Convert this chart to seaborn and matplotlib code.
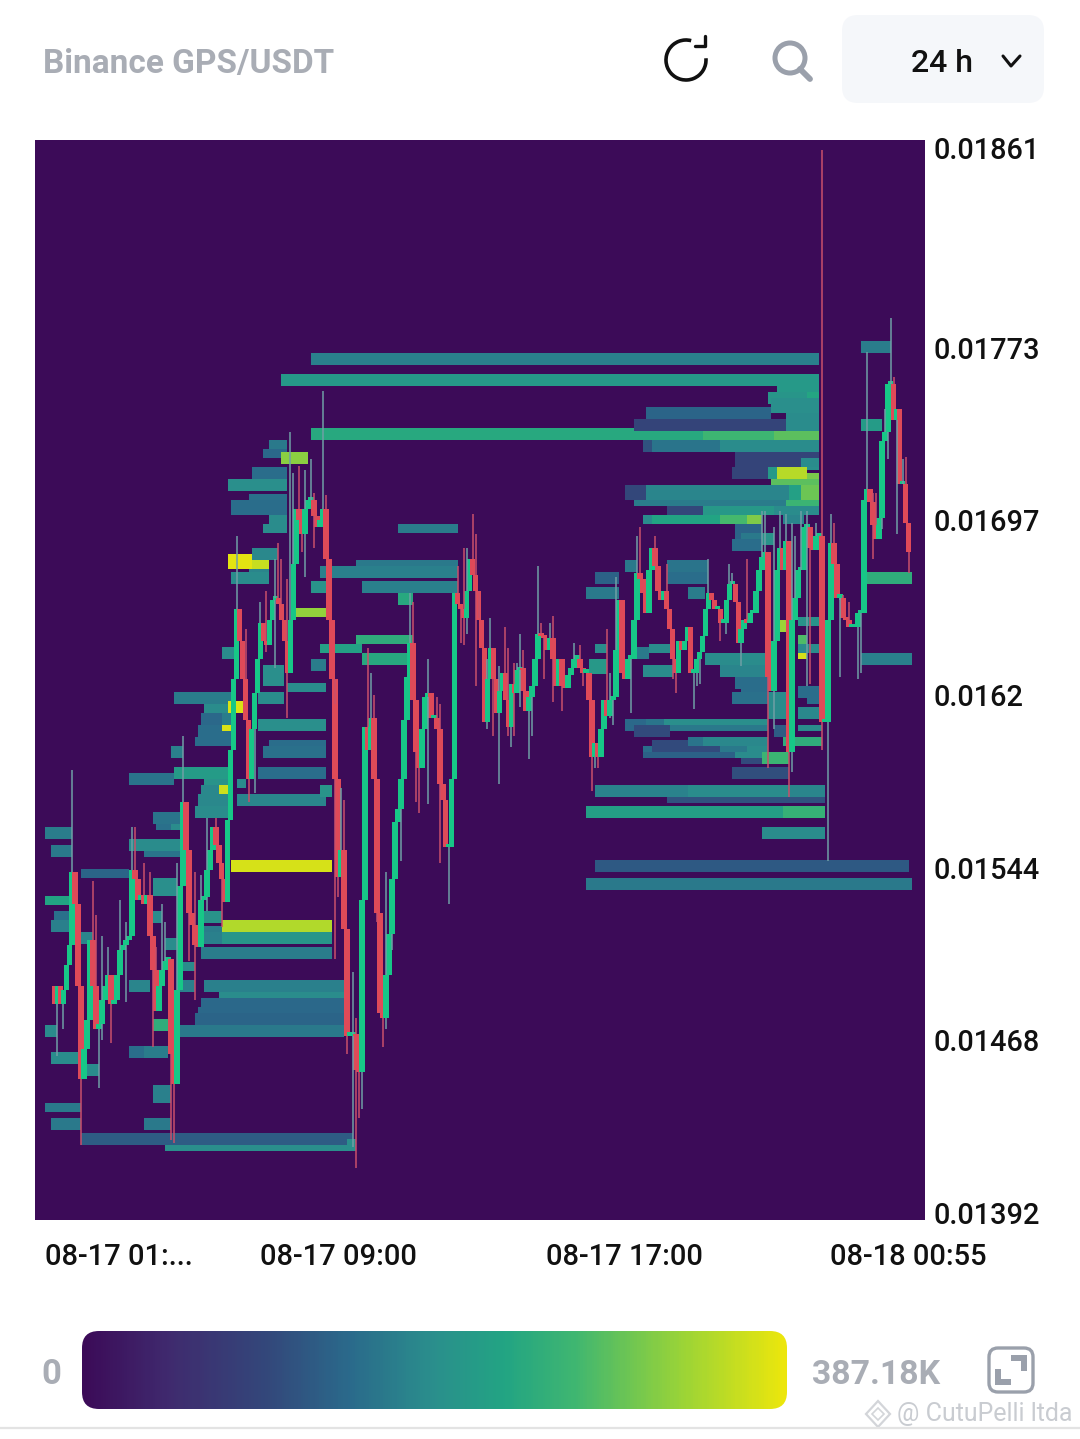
import matplotlib
matplotlib.use('Agg')
import matplotlib.pyplot as plt
import seaborn as sns
import numpy as np
import pandas as pd
from matplotlib.colors import LinearSegmentedColormap
from matplotlib.patches import Arc, Circle, FancyBboxPatch, Polygon

# prices below are in 1e-5 USDT, one slot is one 5 minute candle (slot 0 = 08-17 01:05)
first_open = 1492
closes = [
    1484,1492,1484,1490,1501,1510,1542,1528,1492,1451,1464,1477,1512,1492,1473,1475,1486,1492,1497,1484,
    1486,1497,1508,1510,1512,1514,1543,1539,1530,1532,1528,1532,1514,1499,1481,1492,1499,1503,1504,1462,
    1449,1490,1536,1573,1552,1524,1519,1510,1509,1530,1531,1543,1552,1562,1554,1546,1539,1529,1565,1596,
    1627,1658,1644,1627,1609,1583,1605,1621,1636,1652,1644,1642,1653,1662,1663,1660,1653,1644,1630,1653,
    1678,1702,1697,1691,1702,1706,1706,1699,1694,1697,1702,1680,1653,1627,1583,1540,1552,1517,1470,1470,
    1471,1455,1454,1530,1606,1596,1610,1583,1524,1480,1478,1497,1515,1539,1564,1570,1583,1609,1628,1643,
    1618,1595,1588,1605,1619,1621,1610,1610,1605,1581,1574,1553,1553,1583,1665,1660,1658,1654,1666,1680,
    1673,1666,1653,1641,1608,1627,1641,1627,1612,1622,1630,1618,1606,1625,1621,1631,1632,1622,1613,1619,
    1624,1636,1647,1646,1645,1640,1645,1636,1624,1636,1624,1623,1629,1632,1636,1636,1632,1630,1630,1618,
    1593,1599,1593,1605,1618,1611,1618,1619,1640,1662,1630,1627,1636,1636,1653,1674,1671,1665,1656,1675,
    1685,1677,1666,1662,1666,1658,1649,1636,1630,1644,1640,1644,1650,1630,1630,1636,1639,1646,1658,1665,
    1662,1658,1658,1652,1652,1662,1669,1669,1661,1643,1649,1653,1652,1656,1656,1666,1675,1681,1683,1628,
    1622,1644,1675,1685,1675,1688,1595,1653,1663,1675,1675,1694,1694,1685,1684,1690,1690,1608,1608,1653,
    1687,1678,1663,1663,1654,1653,1650,1650,1650,1656,1656,1706,1711,1705,1695,1689,1698,1732,1736,1757,
    1757,1741,1746,1713,1713,1696,1683,
]

wick_up_slot = [
    6,13,14,16,18,22,24,26,27,30,32,34,36,37,41,43,47,49,51,54,61,64,69,71,74,75,76,78,79,80,
    82,84,86,87,90,91,94,96,97,100,101,105,106,107,111,115,119,120,125,128,129,135,137,138,140,141,142,145,146,149,
    151,152,154,155,156,157,162,163,166,167,174,176,185,186,188,195,196,201,205,219,226,227,232,237,238,241,243,245,247,248,
    250,252,255,257,260,261,263,264,266,272,274,275,278,280,281,284,285,
]
wick_up_price = [
    1587,1538,1523,1514,1509,1530,1520,1562,1562,1546,1542,1509,1528,1520,1546,1602,1542,1541,1566,1566,1690,1649,1661,1666,1680,1687,1680,1671,1736,1718,
    1721,1719,1724,1709,1754,1708,1616,1579,1574,1498,1478,1641,1630,1620,1542,1570,1665,1661,1636,1619,1616,1677,1685,1685,1700,1691,1654,1636,1654,1633,
    1650,1641,1634,1634,1647,1640,1677,1652,1652,1655,1643,1642,1649,1630,1672,1690,1694,1690,1678,1680,1678,1674,1680,1701,1701,1694,1701,1700,1696,1690,
    1701,1701,1696,1860,1700,1696,1662,1664,1661,1771,1709,1709,1746,1786,1760,1724,1725,
]
wick_down_slot = [
    1,3,9,15,16,19,24,33,39,40,45,47,51,56,65,67,71,74,78,83,84,87,94,95,98,100,101,102,103,108,
    109,110,111,113,116,121,122,125,129,132,136,137,138,141,145,147,149,152,153,154,156,159,160,164,167,170,177,180,181,182,
    186,187,193,207,208,214,215,216,223,225,230,239,241,246,247,252,253,257,259,263,269,270,274,277,279,282,286,
]
wick_down_price = [
    1461,1473,1422,1447,1468,1467,1485,1465,1424,1423,1503,1486,1525,1518,1573,1577,1639,1632,1610,1683,1672,1685,1504,1531,1462,1421,1412,1434,1438,1520,
    1483,1465,1473,1508,1547,1573,1568,1572,1546,1528,1643,1642,1647,1624,1605,1602,1581,1602,1597,1602,1615,1592,1602,1627,1617,1613,1624,1578,1588,1588,
    1610,1607,1612,1627,1621,1614,1624,1625,1644,1647,1633,1588,1605,1575,1586,1624,1625,1596,1547,1628,1627,1630,1680,1693,1724,1691,1674,
]

# liquidation levels: slot range, price range, amount in thousands
bar_start = [
    86,76,242,239,252,240,198,86,217,241,
    194,245,197,200,223,228,250,252,227,239,
    242,252,240,191,198,246,250,194,245,205,
    217,241,197,200,223,232,244,228,230,237,
    227,191,205,205,181,178,212,249,243,249,
    249,245,249,270,195,199,181,179,197,218,
    223,228,230,227,249,252,239,239,249,191,
    198,204,194,206,212,217,200,212,223,232,
    197,197,228,237,230,241,249,244,227,181,
    212,246,205,178,244,237,181,178,270,270,
    270,
    72,70,76,66,58,65,59,72,70,115,
    101,89,103,86,115,66,58,66,65,59,
    80,101,89,103,56,86,70,78,40,68,
    50,58,49,56,48,56,47,68,72,70,
    39,40,25,68,50,61,49,48,47,61,
    89,55,33,39,34,-3,25,30,-1,9,
    59,56,56,49,49,33,-3,0,-1,33,
    9,37,42,49,49,25,42,50,55,49,
    48,47,42,33,-3,-1,11,25,30,33,
    -3,-1,30,9,37,98,
]
bar_end = [
    256,256,256,256,256,256,240,217,241,256,
    245,256,200,223,256,256,256,256,239,242,
    252,256,256,198,246,250,256,245,256,217,
    245,256,200,223,232,237,251,237,239,241,
    237,195,219,219,189,189,218,257,247,252,
    257,247,252,287,199,206,185,185,207,239,
    239,239,239,239,257,257,247,247,257,198,
    204,239,206,239,217,239,212,223,232,239,
    228,200,237,246,237,245,257,257,246,212,
    246,258,258,244,258,258,286,287,280,277,
    287,
    78,78,85,78,78,78,78,78,78,135,
    135,135,135,91,120,75,66,72,72,72,
    91,120,103,118,61,91,77,91,59,77,
    59,63,56,60,60,59,60,91,91,91,
    43,59,40,91,59,64,59,59,59,91,
    93,58,42,42,39,6,42,42,6,25,
    93,93,93,56,93,41,6,5,6,36,
    13,42,47,56,56,32,47,97,97,97,
    97,97,97,39,1,9,15,30,38,39,
    9,9,39,100,101,101,
]
bar_top = [
    1771,1761,1756,1753,1753,1751,1747,1738,1736,1736,
    1742,1744,1732,1732,1732,1727,1725,1721,1720,1720,
    1720,1718,1715,1712,1712,1712,1712,1706,1706,1703,
    1703,1703,1700,1700,1700,1700,1700,1695,1691,1691,
    1689,1680,1680,1674,1674,1668,1668,1655,1653,1647,
    1643,1641,1639,1639,1641,1643,1643,1636,1633,1639,
    1633,1628,1624,1621,1624,1619,1621,1616,1615,1610,
    1610,1610,1607,1607,1602,1602,1600,1597,1597,1597,
    1595,1597,1595,1595,1592,1607,1607,1602,1588,1580,
    1580,1580,1575,1571,1571,1562,1547,1540,1776,1741,
    1674,
    1732,1729,1727,1720,1715,1709,1706,1700,1696,1696,
    1679,1677,1670,1670,1665,1685,1682,1680,1676,1674,
    1659,1647,1643,1639,1641,1636,1633,1626,1621,1621,
    1616,1617,1612,1612,1607,1607,1602,1610,1600,1597,
    1597,1588,1586,1588,1583,1583,1580,1576,1571,1576,
    1581,1580,1568,1563,1563,1562,1557,1551,1554,1544,
    1547,1521,1516,1516,1509,1539,1532,1525,1521,1525,
    1516,1513,1503,1525,1518,1495,1495,1495,1489,1487,
    1483,1480,1475,1477,1475,1463,1458,1465,1465,1448,
    1441,1434,1434,1427,1422,1425,
]
bar_bottom = [
    1765,1756,1751,1748,1751,1744,1741,1732,1732,1732,
    1736,1736,1727,1727,1727,1721,1721,1719,1715,1715,
    1714,1714,1711,1706,1706,1706,1706,1703,1703,1700,
    1700,1700,1695,1695,1695,1695,1695,1689,1686,1686,
    1683,1674,1674,1669,1669,1662,1662,1650,1648,1642,
    1639,1636,1636,1633,1636,1639,1639,1630,1628,1633,
    1628,1623,1620,1616,1619,1616,1616,1610,1610,1604,
    1604,1604,1602,1604,1597,1597,1595,1595,1595,1595,
    1592,1595,1592,1590,1590,1602,1604,1597,1583,1575,
    1575,1575,1572,1566,1566,1557,1542,1534,1771,1736,
    1669,
    1727,1724,1722,1715,1710,1705,1700,1696,1691,1691,
    1674,1672,1665,1665,1660,1680,1676,1676,1674,1669,
    1654,1643,1639,1633,1636,1631,1624,1621,1616,1616,
    1612,1612,1607,1607,1602,1604,1597,1604,1596,1592,
    1592,1583,1580,1583,1580,1579,1576,1571,1566,1571,
    1575,1577,1563,1560,1560,1557,1551,1549,1549,1539,
    1542,1516,1510,1510,1504,1531,1527,1521,1516,1520,
    1510,1508,1498,1520,1516,1489,1489,1489,1487,1483,
    1480,1475,1469,1472,1469,1458,1452,1460,1460,1440,
    1436,1428,1428,1422,1419,1422,
]
bar_amount = [
    175,213,213,205,235,195,140,240,268,290,
    95,190,115,160,190,95,190,195,95,213,
    350,310,290,100,180,225,300,170,265,100,
    210,190,190,232,275,312,180,140,165,200,
    150,165,160,150,135,165,170,200,330,280,
    190,370,370,175,165,190,190,210,190,190,
    180,150,150,155,150,150,190,190,185,145,
    160,195,105,165,160,185,105,105,165,190,
    135,150,190,265,105,130,190,250,110,178,
    190,180,115,222,260,190,125,165,170,215,
    250,
    165,145,320,150,195,155,150,190,190,170,
    165,175,175,200,240,185,380,360,180,190,
    325,250,225,240,190,170,195,190,170,190,
    190,375,145,170,150,375,150,195,150,155,
    175,215,160,150,200,190,185,185,190,180,
    200,365,160,190,155,170,190,160,165,140,
    372,345,205,175,170,195,230,155,175,190,
    180,190,190,200,170,180,175,175,190,145,
    145,140,165,250,190,190,190,150,170,175,
    165,165,165,130,195,195,
]

y_tick_values = [0.01861, 0.01773, 0.01697, 0.0162, 0.01544, 0.01468, 0.01392]
y_tick_labels = ['0.01861', '0.01773', '0.01697', '0.0162', '0.01544', '0.01468', '0.01392']
x_tick_slots = [-3, 95, 191, 286]
x_tick_labels = ['08-17 01:...', '08-17 09:00', '08-17 17:00', '08-18 00:55']
amount_max = 387.18

PRICE_TOP = 1864.5
PRICE_BOTTOM = 1388.9
N_ROWS = 360
SLOT_MIN, SLOT_MAX = -6, 292

sns.set_theme(style='white')
plt.rcParams['font.family'] = ['Roboto', 'DejaVu Sans']

heat_cmap = LinearSegmentedColormap.from_list('heat', [
    (0.0, '#3c0b58'), (0.12, '#3f2a6e'), (0.26, '#33477a'), (0.38, '#2a6a8b'),
    (0.50, '#2a8f8c'), (0.60, '#22a483'), (0.70, '#3fb671'), (0.85, '#98d338'),
    (1.0, '#ece60c'),
])

# fill the price/time grid, later levels paint over earlier ones
# two columns per slot, levels are drawn half a slot late as the app does
row_step = (PRICE_TOP - PRICE_BOTTOM) / N_ROWS
slots = np.arange(SLOT_MIN, SLOT_MAX, 0.5)
row_prices = PRICE_TOP - (np.arange(N_ROWS) + 0.5) * row_step
heat = pd.DataFrame(np.zeros((N_ROWS, len(slots))), index=np.round(row_prices, 1), columns=slots)
for start, end, top, bottom, amount in zip(bar_start, bar_end, bar_top, bar_bottom, bar_amount, strict=True):
    r0 = int(round((PRICE_TOP - top) / row_step))
    r1 = int(round((PRICE_TOP - bottom) / row_step))
    c0 = (start - SLOT_MIN) * 2 + 1
    c1 = (end - SLOT_MIN) * 2 + 1
    heat.iloc[r0:r1, c0:c1] = amount

fig = plt.figure(figsize=(10.8, 14.39), dpi=100, facecolor='white')
W, H = 1080.0, 1439.0

# whole page layer for the app chrome, in pixels
ui = fig.add_axes([0, 0, 1, 1], zorder=0)
ui.set_xlim(0, W)
ui.set_ylim(H, 0)
ui.axis('off')

ax = fig.add_axes([35 / W, 1 - 1220 / H, 890 / W, 1080 / H], zorder=1)
sns.heatmap(heat, ax=ax, cmap=heat_cmap, vmin=0, vmax=amount_max, cbar=False,
            xticklabels=False, yticklabels=False)
ax.set_xlabel('')
ax.set_ylabel('')

# candles on a real price axis over the heatmap
candles = pd.DataFrame({'close': closes})
candles['open'] = candles['close'].shift(1).fillna(first_open)
candles['slot'] = np.arange(len(closes))
candles['up'] = candles['close'] >= candles['open']

ax_c = fig.add_axes([35 / W, 1 - 1220 / H, 890 / W, 1080 / H], zorder=2, facecolor='none')
ax_c.set_xlim(SLOT_MIN, SLOT_MAX)
ax_c.set_ylim(PRICE_BOTTOM * 1e-5, PRICE_TOP * 1e-5)

GREEN = '#17c787'
RED = '#df4a58'
body_low = candles[['open', 'close']].min(axis=1)
body_high = candles[['open', 'close']].max(axis=1)
body_height = (body_high - body_low).clip(lower=1.5)
ax_c.bar(candles['slot'] + 0.5, body_height * 1e-5, bottom=body_low * 1e-5, width=1.9,
         color=[GREEN if u else RED for u in candles['up']], linewidth=0, zorder=2)

# thin wicks go over the bodies, like in the app
for s, p in zip(wick_up_slot, wick_up_price, strict=True):
    ax_c.vlines(s + 0.5, body_high[s] * 1e-5, p * 1e-5, linewidth=1.1, zorder=3,
                color='#6f9fa6' if candles['up'][s] else '#c9506b')
for s, p in zip(wick_down_slot, wick_down_price, strict=True):
    ax_c.vlines(s + 0.5, body_low[s] * 1e-5, p * 1e-5, linewidth=1.1, zorder=3,
                color='#6f9fa6' if candles['up'][s] else '#c9506b')

ax_c.yaxis.tick_right()
ax_c.set_yticks(y_tick_values)
ax_c.set_yticklabels(y_tick_labels, fontsize=20.8, color='#111111', fontweight='medium')
ax_c.set_xticks([s + 0.5 for s in x_tick_slots])
ax_c.set_xticklabels(x_tick_labels, fontsize=21, color='#111111', fontweight='medium')
ax_c.tick_params(axis='y', length=0, pad=6)
ax_c.tick_params(axis='x', length=0, pad=16.5)
ax_c.get_xticklabels()[0].set_ha('left')
sns.despine(ax=ax_c, left=True, bottom=True, right=True, top=True)

# header
ui.text(43, 64, 'Binance GPS/USDT', fontsize=24, fontweight='bold', color='#a9adb5', va='center', ha='left')
ui.add_patch(FancyBboxPatch((842, 15), 202, 88, boxstyle='round,pad=0,rounding_size=16', mutation_scale=1,
                            facecolor='#f5f7fa', edgecolor='none'))
ui.text(942, 64, '24 h', fontsize=23, color='#111111', va='center', ha='center', fontweight='medium')
ui.plot([1003, 1011, 1020], [56, 66, 56], color='#111111', linewidth=2.2, solid_capstyle='round')

ui.add_patch(Arc((686, 60), 40, 40, theta1=-5, theta2=285, color='#111111', linewidth=2.6))
ui.plot([695, 705, 705], [46, 46, 36], color='#111111', linewidth=2.4)
ui.add_patch(Circle((790, 58), 15, fill=False, edgecolor='#9aa0ab', linewidth=3.6))
ui.plot([800, 810], [69, 79], color='#9aa0ab', linewidth=4.2, solid_capstyle='round')

# colour bar with rounded ends
bar_clip = FancyBboxPatch((82, 1331), 705, 78, boxstyle='round,pad=0,rounding_size=17', mutation_scale=1,
                          facecolor='none', edgecolor='none')
ui.add_patch(bar_clip)
ax_bar = fig.add_axes([82 / W, 1 - 1409 / H, 705 / W, 78 / H], zorder=1)
sns.heatmap(np.linspace(0, amount_max, 300)[None, :], ax=ax_bar, cmap=heat_cmap, vmin=0, vmax=amount_max,
            cbar=False, xticklabels=False, yticklabels=False)
ax_bar.collections[0].set_clip_path(bar_clip)
ax_bar.axis('off')

ui.text(51, 1375, '0', fontsize=25, fontweight='bold', color='#a9adb5', va='center', ha='center')
ui.text(812, 1375, '387.18K', fontsize=24.3, fontweight='bold', color='#a9adb5', va='center', ha='left')

# expand button
ui.add_patch(FancyBboxPatch((989, 1348), 44, 44, boxstyle='round,pad=0,rounding_size=9', mutation_scale=1,
                            facecolor='white', edgecolor='#9aa0ab', linewidth=2.4))
ui.add_patch(Polygon([(1011, 1355), (1027, 1355), (1027, 1371), (1021, 1371), (1021, 1361), (1011, 1361)],
                     closed=True, facecolor='#9aa0ab', edgecolor='none'))
ui.add_patch(Polygon([(995, 1369), (1001, 1369), (1001, 1379), (1011, 1379), (1011, 1385), (995, 1385)],
                     closed=True, facecolor='#9aa0ab', edgecolor='none'))

# watermark and bottom rule
ui.text(897, 1414, '@ CutuPelli ltda', fontsize=18, color='#c9ccd1', va='center', ha='left')
ui.add_patch(Polygon([(878, 1401), (890, 1414), (878, 1427), (866, 1414)], closed=True,
                     facecolor='none', edgecolor='#d3d5d9', linewidth=1.6))
ui.add_patch(Polygon([(878, 1408), (884, 1414), (878, 1420), (872, 1414)], closed=True,
                     facecolor='none', edgecolor='#d3d5d9', linewidth=1.2))
ui.plot([0, W], [1428, 1428], color='#e3e3e3', linewidth=1.6)

fig.savefig('out.png', dpi=100)
